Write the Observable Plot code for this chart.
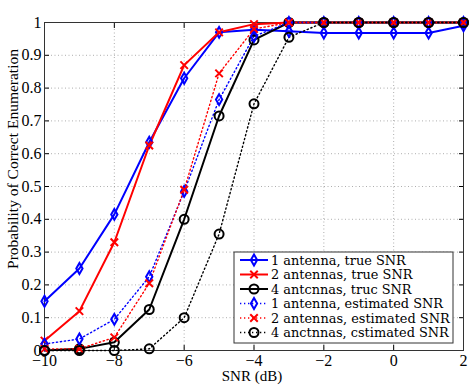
<!DOCTYPE html>
<html>
<head>
<meta charset="utf-8">
<script src="https://cdn.jsdelivr.net/npm/d3@7"></script>
<script src="https://cdn.jsdelivr.net/npm/@observablehq/plot@0.6"></script>
<style>
  html, body { margin: 0; padding: 0; background: #fff; }
  #chart { position: relative; width: 474px; height: 386px; }
</style>
</head>
<body>
<div id="chart"></div>
<script>
const snr = [-10, -9, -8, -7, -6, -5, -4, -3, -2, -1, 0, 1, 2];
const oneTrue  = [0.15, 0.25, 0.415, 0.635, 0.83, 0.97, 0.978, 0.973, 0.968, 0.968, 0.968, 0.968, 0.99];
const twoTrue  = [0.03, 0.12, 0.33, 0.625, 0.87, 0.97, 0.995, 1, 1, 1, 1, 1, 1];
const fourTrue = [0, 0.005, 0.025, 0.125, 0.4, 0.715, 0.947, 1, 1, 1, 1, 1, 1];
const oneEst   = [0.02, 0.035, 0.095, 0.225, 0.485, 0.765, 0.958, 1, 1, 1, 1, 1, 1];
const twoEst   = [0.005, 0.005, 0.04, 0.205, 0.49, 0.845, 0.98, 1, 1, 1, 1, 1, 1];
const fourEst  = [0, 0, 0, 0.005, 0.1, 0.355, 0.752, 0.955, 1, 1, 1, 1, 1];

const seriesNames = [
  "1 antenna, true SNR",
  "2 antennas, true SNR",
  "4 antcnnas, truc SNR",
  "1 antenna, estimated SNR",
  "2 antennas, estimated SNR",
  "4 anctnnas, cstimated SNR"
];
const xTicks = [-10, -8, -6, -4, -2, 0, 2];
const yTicks = [0, 0.1, 0.2, 0.3, 0.4, 0.5, 0.6, 0.7, 0.8, 0.9, 1];

const DOT = "1.3,2.7";
const styles = [
  {values: oneTrue,  color: "#0000ff", symbol: "diamond", r: 3.3, dash: null},
  {values: twoTrue,  color: "#ff0000", symbol: "times",   r: 3.5, dash: null},
  {values: fourTrue, color: "#000000", symbol: "circle",  r: 4.5, dash: null},
  {values: oneEst,   color: "#0000ff", symbol: "diamond", r: 3.3, dash: DOT},
  {values: twoEst,   color: "#ff0000", symbol: "times",   r: 3.5, dash: DOT},
  {values: fourEst,  color: "#000000", symbol: "circle",  r: 4.5, dash: DOT}
];

const marks = [
  Plot.gridX(xTicks, {stroke: "#999", strokeOpacity: 1, strokeDasharray: "1,2.5", strokeWidth: 0.8}),
  Plot.gridY(yTicks, {stroke: "#999", strokeOpacity: 1, strokeDasharray: "1,2.5", strokeWidth: 0.8}),
  Plot.axisX(xTicks, {anchor: "bottom", tickSize: 0, tickPadding: 4, fontSize: 16, label: null}),
  Plot.axisY(yTicks, {anchor: "left", tickSize: 0, tickPadding: 3, fontSize: 16, label: null,
    tickFormat: d => d3.format("~g")(d)}),
  Plot.axisX(xTicks, {anchor: "bottom", tickSize: -5, tickFormat: () => "", label: null}),
  Plot.axisX(xTicks, {anchor: "top", tickSize: -5, tickFormat: () => "", label: null}),
  Plot.axisY(yTicks, {anchor: "left", tickSize: -5, tickFormat: () => "", label: null}),
  Plot.axisY(yTicks, {anchor: "right", tickSize: -5, tickFormat: () => "", label: null}),
  Plot.frame({stroke: "#333", strokeWidth: 1})
];

styles.forEach(s => {
  const data = snr.map((x, i) => ({x, y: s.values[i]}));
  marks.push(Plot.line(data, {x: "x", y: "y", stroke: s.color,
    strokeWidth: s.dash ? 1.4 : 2, strokeDasharray: s.dash || undefined}));
});
styles.forEach(s => {
  const data = snr.map((x, i) => ({x, y: s.values[i]}));
  marks.push(Plot.dot(data, {x: "x", y: "y", stroke: s.color, fill: "none",
    symbol: s.symbol, r: s.r, strokeWidth: 2}));
});

const plot = Plot.plot({
  width: 474,
  height: 386,
  marginLeft: 44,
  marginRight: 11,
  marginTop: 22,
  marginBottom: 36,
  style: {fontFamily: "'Liberation Serif', 'DejaVu Serif', serif", fontSize: "16px", color: "#000", background: "#fff"},
  x: {domain: [-10, 2], label: null},
  y: {domain: [0, 1], label: null},
  marks
});

const svg = d3.select(plot);
// axis labels
svg.append("text")
  .attr("x", 252).attr("y", 381)
  .attr("text-anchor", "middle")
  .attr("font-size", 15)
  .attr("fill", "#000")
  .text("SNR (dB)");
svg.append("text")
  .attr("transform", "translate(18,159) rotate(-90)")
  .attr("text-anchor", "middle")
  .attr("font-size", 15.5)
  .attr("fill", "#000")
  .text("Probability of Correct Enumeration");

// legend
const lg = svg.append("g");
lg.append("rect")
  .attr("x", 234).attr("y", 252).attr("width", 219).attr("height", 91)
  .attr("fill", "#fff").attr("stroke", "#333").attr("stroke-width", 1);
const symMap = {diamond: d3.symbolDiamond, times: d3.symbolTimes, circle: d3.symbolCircle};
styles.forEach((s, i) => {
  const yy = 260 + i * 14.5;
  lg.append("line")
    .attr("x1", 240).attr("x2", 268).attr("y1", yy).attr("y2", yy)
    .attr("stroke", s.color).attr("stroke-width", s.dash ? 1.4 : 2)
    .attr("stroke-dasharray", s.dash || null);
  lg.append("path")
    .attr("transform", `translate(254,${yy})`)
    .attr("d", d3.symbol(symMap[s.symbol], Math.PI * s.r * s.r)())
    .attr("fill", "none").attr("stroke", s.color).attr("stroke-width", 2);
  lg.append("text")
    .attr("x", 271).attr("y", yy + 4.5)
    .attr("text-anchor", "start")
    .attr("font-family", "'DejaVu Serif', serif")
    .attr("font-size", 12.9).attr("fill", "#000")
    .text(seriesNames[i]);
});

document.getElementById("chart").appendChild(plot);
</script>
</body>
</html>
